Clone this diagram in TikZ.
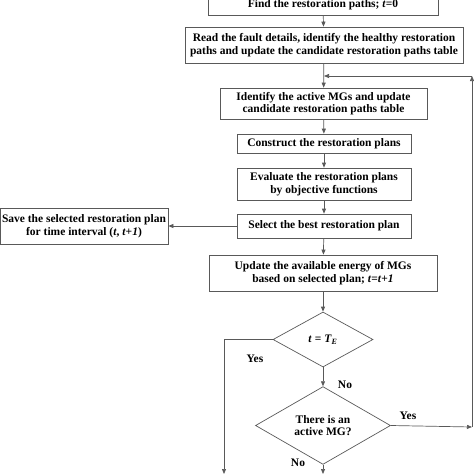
\documentclass[tikz,border=0pt]{standalone}
\usepackage{fontspec}
\setmainfont{Liberation Serif}
\usetikzlibrary{arrows.meta,shapes.geometric}

\tikzset{
  stepbox/.style = {draw = black!65, line width = 0.7pt, align = center,
    inner sep = 1pt, font = \fontsize{11.5}{12.5}\selectfont\bfseries},
  decide/.style = {stepbox, diamond, inner sep = 0pt},
  arr/.style = {draw = black!65, line width = 0.7pt, -{Triangle[length = 5pt, width = 4pt]}},
  lbl/.style = {font = \fontsize{11.5}{12}\selectfont\bfseries}
}

\begin{document}
\begin{tikzpicture}[x = 1pt, y = -1pt]
\useasboundingbox (0, 0) rectangle (474, 474);

\node[stepbox, minimum width = 230, minimum height = 20] (find) at (323, 5)
  {Find the restoration paths; \textit{t}=0};
\node[stepbox, minimum width = 278, minimum height = 36] (read) at (324, 45)
  {Read the fault details, identify the healthy restoration\\paths and update the candidate restoration paths table};
\node[stepbox, minimum width = 207, minimum height = 31] (active) at (323.5, 103.5)
  {Identify the active MGs and update\\candidate restoration paths table};
\node[stepbox, minimum width = 174, minimum height = 19] (build) at (324, 143.5)
  {Construct the restoration plans};
\node[stepbox, minimum width = 174, minimum height = 32] (eval) at (324, 184)
  {Evaluate the restoration plans\\by objective functions};
\node[stepbox, minimum width = 174, minimum height = 24] (select) at (324, 226)
  {Select the best restoration plan};
\node[stepbox, minimum width = 168, minimum height = 36] (save) at (84, 226)
  {Save the selected restoration plan\\for time interval (\textit{t}, \textit{t}+\textit{1})};
\node[stepbox, minimum width = 228, minimum height = 36] (energy) at (323, 273)
  {Update the available energy of MGs\\based on selected plan; \textit{t}=\textit{t}+\textit{1}};
\node[decide, minimum width = 100, minimum height = 55] (te) at (323, 339.5)
  {\textit{t} = \textit{T}\textsubscript{\textit{E}}};
\node[decide, minimum width = 135, minimum height = 65] (mg) at (323, 425.5)
  {There is an\\active MG?};

\coordinate (turn) at (472, 427);
\coordinate (back) at (472, 76);
\coordinate (stop) at (224, 474);
\coordinate (cont) at (323, 474);

\draw[arr] (find) -- (read);
\draw[arr] (read) -- (active);
\draw[arr] (active) -- (build);
\draw[arr] (build) -- (eval);
\draw[arr] (eval) -- (select);
\draw[arr] (select) -- (save);
\draw[arr] (select) -- (energy);
\draw[arr] (energy) -- (te);
\draw[arr] (te) -- (mg);
\draw[arr] (te.west) -| (stop);
\draw[arr] (mg.south) -- (cont);
\draw[arr] (mg.east) -- (turn);
\draw[arr] (turn) -- (back);
\draw[arr] (back) -- (read.south |- back);

\node[lbl] (yes1) at (255, 359) {Yes};
\node[lbl] (no1) at (345, 385) {No};
\node[lbl] (yes2) at (408, 416) {Yes};
\node[lbl] (no2) at (298, 463) {No};
\end{tikzpicture}
\end{document}
